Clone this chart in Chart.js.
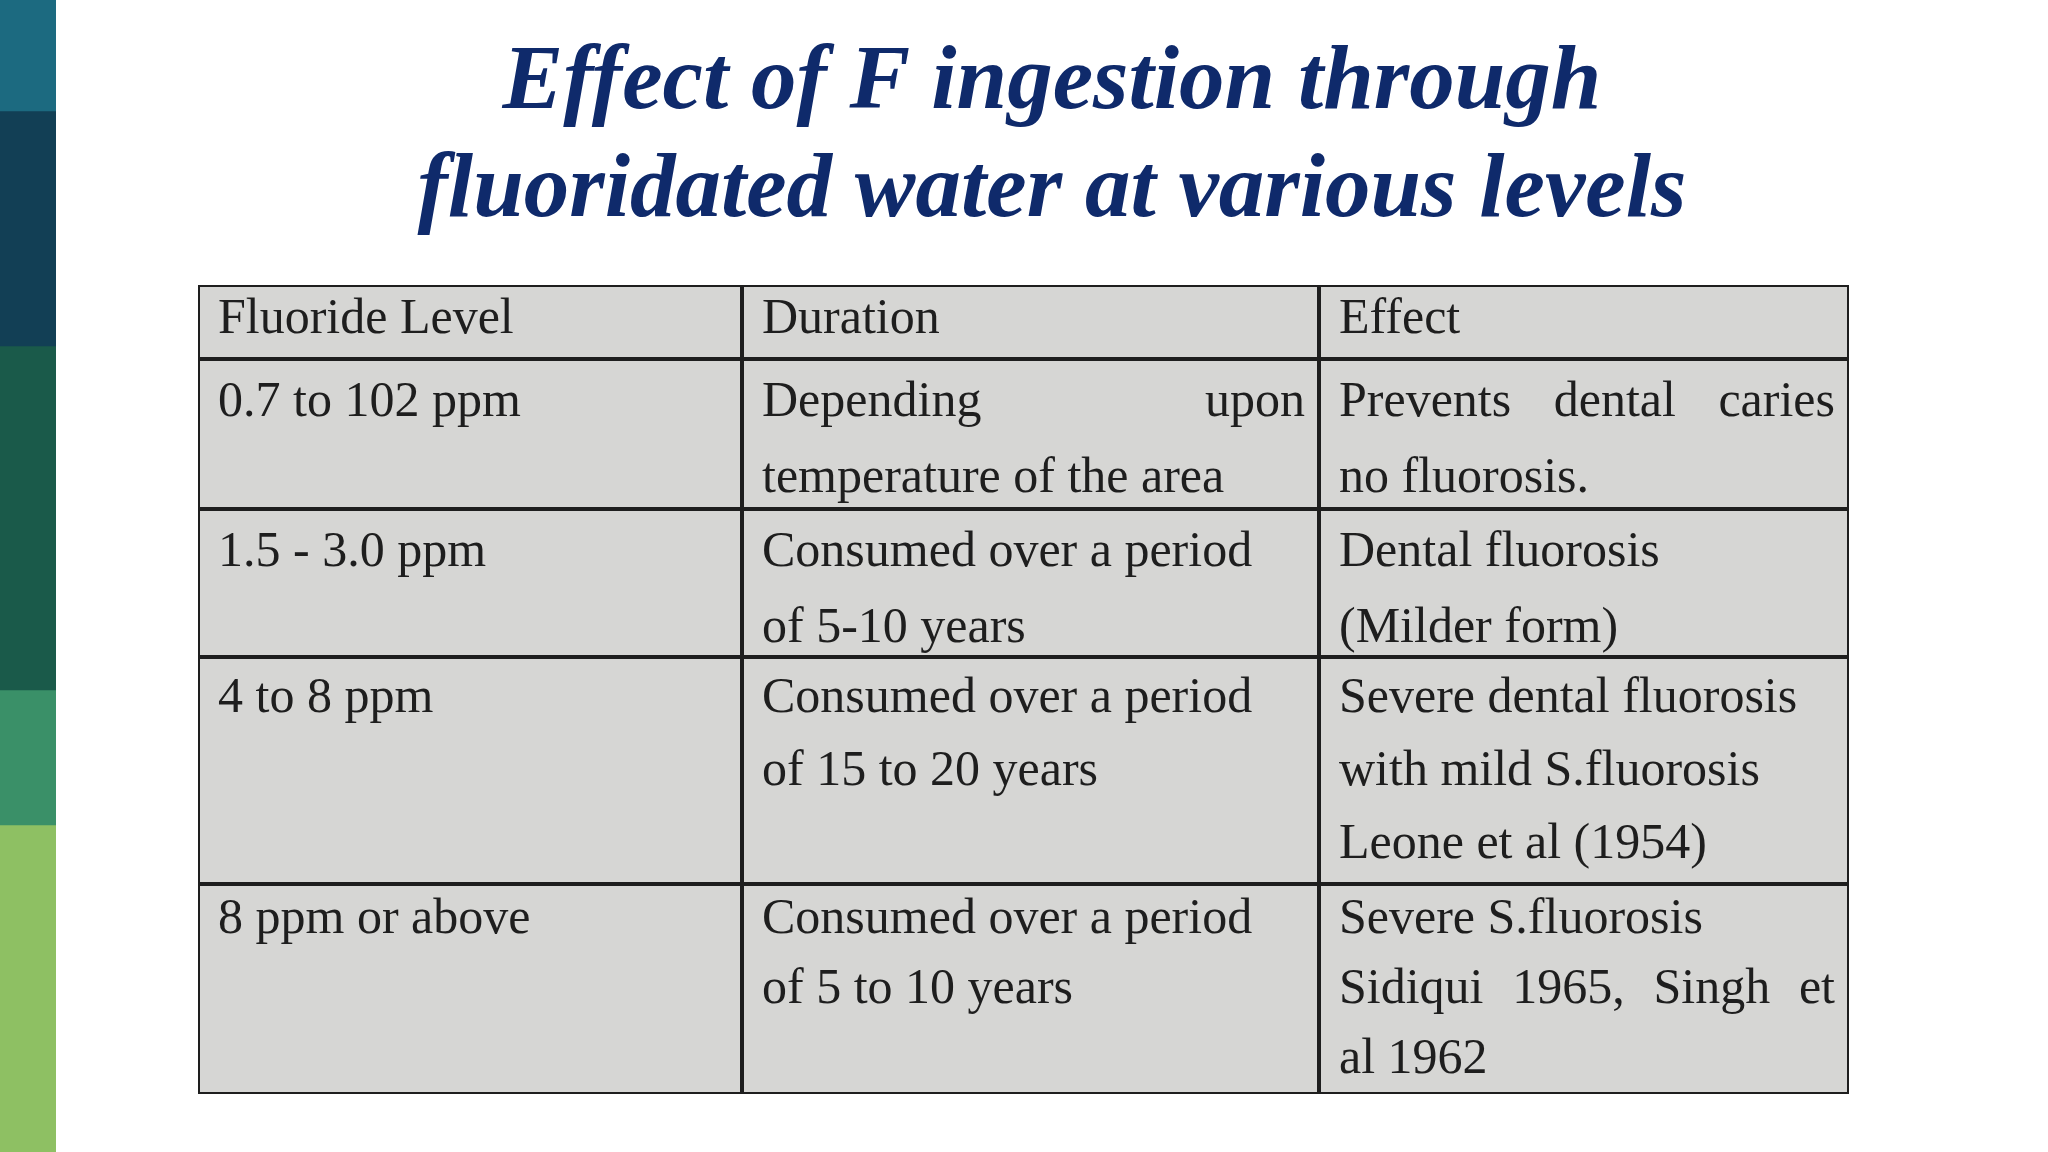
<!DOCTYPE html>
<html>
<head>
<meta charset="utf-8">
<script src="https://cdn.jsdelivr.net/npm/chart.js@4.4.0/dist/chart.umd.min.js"></script>
<style>
  html, body { margin: 0; padding: 0; width: 2048px; height: 1152px; background: #fff; overflow: hidden; }
  .title { position: absolute; left: 56px; right: 0; top: 24px; text-align: center;
           font-family: "Liberation Serif", serif; font-weight: bold; font-style: italic;
           font-size: 91px; line-height: 108px; color: #0f2a6b; }
  #wrap { position: absolute; left: 198px; top: 285px; width: 1651px; height: 809px; }
  #bar { position: absolute; left: 0; top: 0; width: 56px; height: 1152px; }
</style>
</head>
<body>
<div id="bar"><canvas id="barChart"></canvas></div>
<div class="title">Effect of F ingestion through<br>fluoridated water at various levels</div>
<div id="wrap"><canvas id="tableChart"></canvas></div>
<script>
// table content
const headers = ["Fluoride Level", "Duration", "Effect"];
const levels = ["0.7 to 102 ppm", "1.5 - 3.0 ppm", "4 to 8 ppm", "8 ppm or above"];
const durations = [
    ["Depending upon", "temperature of the area"],
    ["Consumed over a period", "of 5-10 years"],
    ["Consumed over a period", "of 15 to 20 years"],
    ["Consumed over a period", "of 5 to 10 years"]
];
const effects = [
    ["Prevents dental caries", "no fluorosis."],
    ["Dental fluorosis", "(Milder form)"],
    ["Severe dental fluorosis", "with mild S.fluorosis", "Leone et al (1954)"],
    ["Severe S.fluorosis", "Sidiqui 1965, Singh et", "al 1962"]
];
// side stripe segments (share of height) and colours
const stripeShares = [111, 235, 344, 135, 327];
const stripeColors = ["#1c6a80", "#123f55", "#1a5a4a", "#3a9068", "#8ec063"];

// layout of the table in canvas units
const colEdges = [0, 544, 1121, 1651];
const rowEdges = [0, 74, 224, 372, 599, 809];
const rowOffsets = [35, 44, 44, 42, 36];
const rowSpacing = [76, 76, 76, 73, 70];
// lines spread to the full cell width, as in the source: [row, col, line]
const justified = [[1, 1, 0], [1, 2, 0], [4, 2, 1]];

new Chart(document.getElementById('barChart'), {
    type: 'bar',
    data: {
        labels: [''],
        datasets: stripeShares.map((v, i) => ({
            data: [v], backgroundColor: stripeColors[i], borderWidth: 0,
            barPercentage: 1, categoryPercentage: 1
        }))
    },
    options: {
        responsive: true, maintainAspectRatio: false, animation: false,
        plugins: { legend: { display: false }, tooltip: { enabled: false } },
        layout: { padding: 0 },
        scales: {
            x: { stacked: true, display: false },
            y: { stacked: true, display: false, reverse: true, min: 0, max: 1152 }
        }
    }
});

const tablePlugin = {
    id: 'tablePlugin',
    beforeDraw(chart) {
        const { ctx, scales: { x, y } } = chart;
        ctx.save();
        ctx.fillStyle = '#d6d6d4';
        ctx.fillRect(x.getPixelForValue(0), y.getPixelForValue(0),
            x.getPixelForValue(1651) - x.getPixelForValue(0), y.getPixelForValue(809) - y.getPixelForValue(0));
        ctx.strokeStyle = '#1e1e1e';
        ctx.lineWidth = 4;
        colEdges.forEach(c => {
            ctx.beginPath();
            ctx.moveTo(x.getPixelForValue(c), y.getPixelForValue(0));
            ctx.lineTo(x.getPixelForValue(c), y.getPixelForValue(809));
            ctx.stroke();
        });
        rowEdges.forEach(r => {
            ctx.beginPath();
            ctx.moveTo(x.getPixelForValue(0), y.getPixelForValue(r));
            ctx.lineTo(x.getPixelForValue(1651), y.getPixelForValue(r));
            ctx.stroke();
        });
        ctx.fillStyle = '#1e1e1e';
        ctx.font = '50px "Liberation Serif", serif';
        ctx.textBaseline = 'middle';
        const cell = (lines, col, row) => {
            lines.forEach((t, k) => {
                const ty = y.getPixelForValue(rowEdges[row] + rowOffsets[row] + k * rowSpacing[row]);
                const x0 = x.getPixelForValue(colEdges[col] + 20);
                const x1 = x.getPixelForValue(colEdges[col + 1] - 14);
                if (justified.some(j => j[0] === row && j[1] === col && j[2] === k)) {
                    const words = t.split(' ');
                    const wsum = words.reduce((a, w) => a + ctx.measureText(w).width, 0);
                    const gap = (x1 - x0 - wsum) / (words.length - 1);
                    let cx = x0;
                    words.forEach(w => { ctx.fillText(w, cx, ty); cx += ctx.measureText(w).width + gap; });
                } else {
                    ctx.fillText(t, x0, ty);
                }
            });
        };
        headers.forEach((h, i) => cell([h], i, 0));
        levels.forEach((l, i) => {
            cell([l], 0, i + 1);
            cell(durations[i], 1, i + 1);
            cell(effects[i], 2, i + 1);
        });
        ctx.restore();
    }
};

new Chart(document.getElementById('tableChart'), {
    type: 'scatter',
    data: { datasets: [{ data: [] }] },
    options: {
        responsive: true, maintainAspectRatio: false, animation: false,
        layout: { padding: 0 },
        plugins: { legend: { display: false }, tooltip: { enabled: false } },
        scales: {
            x: { display: false, min: 0, max: 1651 },
            y: { display: false, min: 0, max: 809, reverse: true }
        }
    },
    plugins: [tablePlugin]
});
</script>
</body>
</html>
